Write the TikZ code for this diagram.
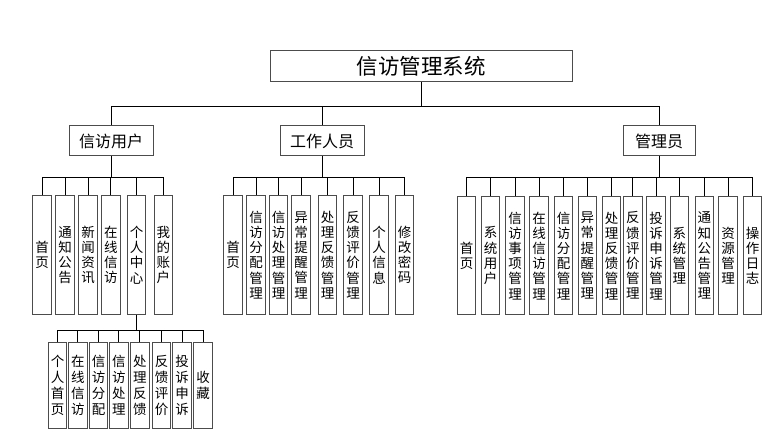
\documentclass[tikz,border=0pt]{standalone}
\usepackage{fontspec}
\setmainfont{Noto Sans CJK SC}
\begin{document}
\begin{tikzpicture}[x=1pt,y=-1pt,
  box/.style={draw=black!70, line width=1pt, inner sep=0pt, fill=white, align=center},
  leaf/.style={box, minimum width=18.5pt, minimum height=118pt, font=\fontsize{13.5}{15.2}\selectfont},
  subleaf/.style={box, minimum width=18.5pt, minimum height=86pt, font=\fontsize{13.5}{16}\selectfont},
  mid/.style={box, minimum height=30pt, font=\fontsize{16}{18}\selectfont},
  wire/.style={draw=black, line width=0.9pt}]
\useasboundingbox (0,0) rectangle (778,443);
\fill[white] (0,0) rectangle (778,443);

\coordinate (tb) at (0,106);
\coordinate (ab) at (0,177);
\coordinate (sb) at (0,330);

\node[box, minimum width=302pt, minimum height=31pt, font=\fontsize{21.5}{24}\selectfont] (top) at (421,66.5) {信访管理系统};
\node[mid, minimum width=84pt] (user) at (111,141) {信访用户};
\node[mid, minimum width=84pt] (staff) at (322,141) {工作人员};
\node[mid, minimum width=72pt] (admin) at (659,141) {管理员};

\draw[wire] (top.south) -- (top.south |- tb);
\draw[wire] (user.north |- tb) -- (admin.north |- tb);
\draw[wire] (user.north) -- (user.north |- tb);
\draw[wire] (staff.north) -- (staff.north |- tb);
\draw[wire] (admin.north) -- (admin.north |- tb);

% group A
\foreach \x/\t [count=\i] in {42.2/首\\页, 65/通\\知\\公\\告, 88/新\\闻\\资\\讯, 110.8/在\\线\\信\\访, 136.7/个\\人\\中\\心, 163.3/我\\的\\账\\户}
  \node[leaf] (a\i) at (\x,255) {\t};
\foreach \i in {1,...,6} \draw[wire] (a\i.north) -- (a\i.north |- ab);
\draw[wire] (a1.north |- ab) -- (a6.north |- ab);
\draw[wire] (user.south) -- (user.south |- ab);

% group B
\foreach \x/\t [count=\i] in {233/首\\页, 256/信\\访\\分\\配\\管\\理, 278.5/信\\访\\处\\理\\管\\理, 301/异\\常\\提\\醒\\管\\理, 327.5/处\\理\\反\\馈\\管\\理, 353.2/反\\馈\\评\\价\\管\\理, 379.2/个\\人\\信\\息, 404.7/修\\改\\密\\码}
  \node[leaf] (b\i) at (\x,255) {\t};
\foreach \i in {1,...,8} \draw[wire] (b\i.north) -- (b\i.north |- ab);
\draw[wire] (b1.north |- ab) -- (b8.north |- ab);
\draw[wire] (staff.south) -- (staff.south |- ab);

% group C
\foreach \x/\t [count=\i] in {466.7/首\\页, 490.7/系\\统\\用\\户, 515.2/信\\访\\事\\项\\管\\理, 539.2/在\\线\\信\\访\\管\\理, 563.5/信\\访\\分\\配\\管\\理, 587.3/异\\常\\提\\醒\\管\\理, 611.7/处\\理\\反\\馈\\管\\理, 632.8/反\\馈\\评\\价\\管\\理, 656/投\\诉\\申\\诉\\管\\理, 679.3/系\\统\\管\\理, 704.3/通\\知\\公\\告\\管\\理, 728.2/资\\源\\管\\理, 752.5/操\\作\\日\\志}
  \node[leaf] (c\i) at (\x,255.7) {\t};
\foreach \i in {1,...,13} \draw[wire] (c\i.north) -- (c\i.north |- ab);
\draw[wire] (c1.north |- ab) -- (c13.north |- ab);
\draw[wire] (admin.south) -- (admin.south |- ab);

% sub group under 个人中心
\foreach \x/\t [count=\i] in {57.5/个\\人\\首\\页, 77.8/在\\线\\信\\访, 98.5/信\\访\\分\\配, 118.8/信\\访\\处\\理, 139.8/处\\理\\反\\馈, 161.5/反\\馈\\评\\价, 182.2/投\\诉\\申\\诉, 203.2/收\\藏}
  \node[subleaf] (s\i) at (\x,385.5) {\t};
\foreach \i in {1,...,8} \draw[wire] (s\i.north) -- (s\i.north |- sb);
\draw[wire] (s1.north |- sb) -- (s8.north |- sb);
\draw[wire] (a5.south) -- (a5.south |- sb);
\end{tikzpicture}
\end{document}
